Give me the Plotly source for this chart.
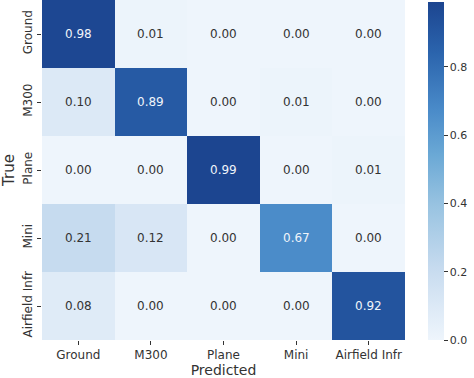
import plotly.graph_objects as go

labels = ["Ground", "M300", "Plane", "Mini", "Airfield Infr"]
values = [
    [0.98, 0.01, 0.00, 0.00, 0.00],
    [0.10, 0.89, 0.00, 0.01, 0.00],
    [0.00, 0.00, 0.99, 0.00, 0.01],
    [0.21, 0.12, 0.00, 0.67, 0.00],
    [0.08, 0.00, 0.00, 0.00, 0.92],
]
cbar_ticks = [0.0, 0.2, 0.4, 0.6, 0.8]

zmin, zmax = 0.0, max(max(r) for r in values)

colorscale = [
    [0.0, "#eef5fc"],
    [0.1, "#dce9f6"],
    [0.21, "#c7dbef"],
    [0.4, "#98c3e1"],
    [0.55, "#6aa8d5"],
    [0.68, "#4a8bc9"],
    [0.85, "#2b64ad"],
    [1.0, "#1c4590"],
]

W, H = 474, 378
L, R, T, B = 42, 69, 0, 38
plot_w = W - L - R

fig = go.Figure()
fig.add_trace(go.Heatmap(
    z=values, x=labels, y=labels,
    zmin=zmin, zmax=zmax, colorscale=colorscale,
    xgap=0, ygap=0, hoverinfo="skip",
    colorbar=dict(
        thickness=16, xpad=0, ypad=0,
        x=(428 - L) / plot_w, xanchor="left",
        lenmode="pixels", len=338, y=0, yanchor="bottom",
        outlinewidth=0,
        tickvals=cbar_ticks, ticktext=[f"{v:.1f}" for v in cbar_ticks],
        ticks="outside", ticklen=4, tickwidth=1, tickcolor="#333",
        tickfont=dict(family="DejaVu Sans", size=11, color="#333"),
    ),
))

for i, row in enumerate(values):
    for j, v in enumerate(row):
        color = "#f0f4fa" if v / zmax > 0.6 else "#333333"
        fig.add_annotation(x=labels[j], y=labels[i], text=f"{v:.2f}",
                           showarrow=False,
                           font=dict(family="DejaVu Sans", size=12, color=color))

fig.update_xaxes(
    showgrid=False, zeroline=False, ticks="outside", ticklen=4, tickcolor="#333",
    tickfont=dict(family="DejaVu Sans", size=12, color="#333"),
    title=dict(text="Predicted", standoff=2, font=dict(family="DejaVu Sans", size=14, color="#333")),
)
fig.update_yaxes(
    autorange="reversed", showgrid=False, zeroline=False, ticks="outside", ticklen=4,
    tickcolor="#333", tickangle=-90,
    tickfont=dict(family="DejaVu Sans", size=12, color="#333"),
    title=dict(text="True", standoff=2, font=dict(family="DejaVu Sans", size=15, color="#333")),
)

fig.update_layout(
    width=W, height=H,
    margin=dict(l=L, r=R, t=T, b=B, autoexpand=False),
    paper_bgcolor="white", plot_bgcolor="white",
)

fig.write_html("out.html", config={"displayModeBar": False},
               post_script="document.body.style.margin='0';document.body.style.overflow='hidden';")
